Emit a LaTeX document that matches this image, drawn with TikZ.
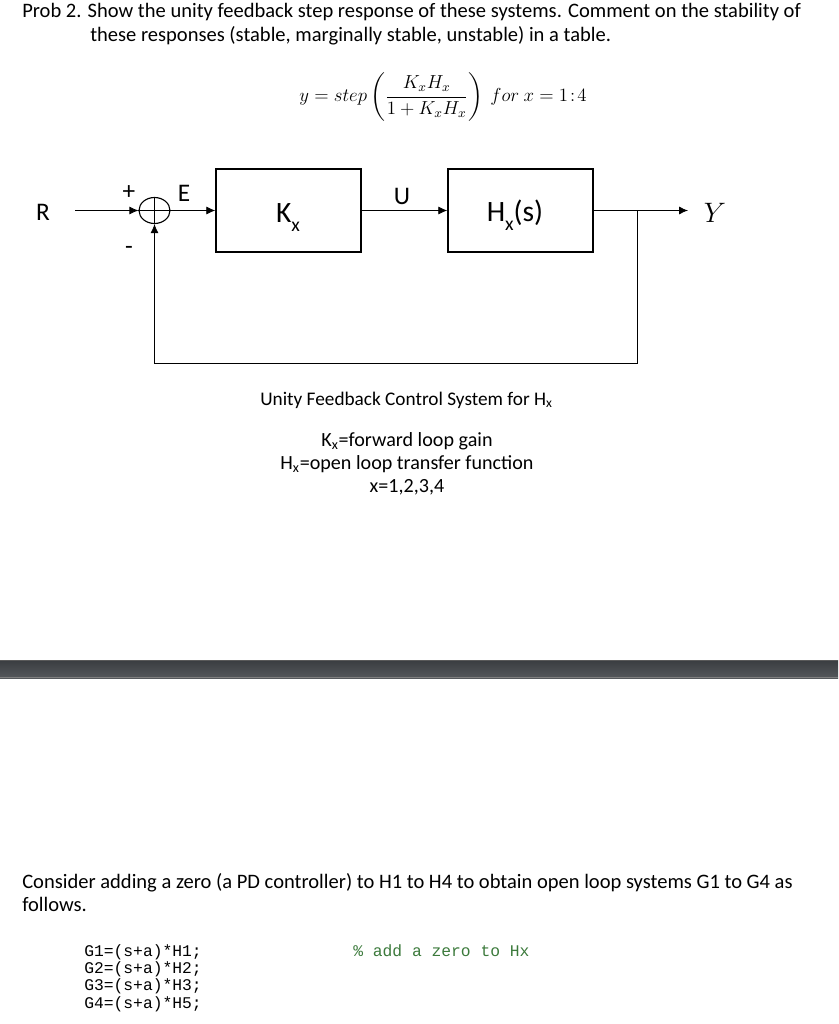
\RequirePackage{fix-cm}
\documentclass[tikz,border=0pt]{standalone}
\usepackage{amsmath}
\usepackage{fontspec}
\setmainfont{Carlito}
\newfontfamily\codefont{Liberation Mono}
\usetikzlibrary{positioning}
\usetikzlibrary{arrows.meta}
\usetikzlibrary{shapes.geometric}
\definecolor{commentgreen}{RGB}{60,122,60}
\definecolor{bardark}{RGB}{58,61,64}
\definecolor{barmid}{RGB}{84,88,92}
\newcommand{\bodysize}{\fontsize{14.6}{17}\selectfont}
\newcommand{\sigsize}{\fontsize{18}{20}\selectfont}
\newcommand{\blocksize}{\fontsize{21}{24}\selectfont}
\newcommand{\lowx}{\raisebox{-6.4pt}{\fontsize{14}{14}\selectfont x}}

\begin{document}
\begin{tikzpicture}[x=0.025cm, y=-0.025cm,
		text line/.style={inner sep=0pt, anchor=base west, font=\bodysize},
		mid line/.style={inner sep=0pt, anchor=base, font=\fontsize{14.3}{17}\selectfont},
		sig label/.style={inner sep=0pt, anchor=base, font=\sigsize},
		block/.style={draw, line width=1pt, minimum width=3.625cm, minimum height=2.075cm, inner sep=0pt},
		sum node/.style={ellipse, draw, line width=0.8pt, minimum width=0.775cm, minimum height=0.65cm, inner sep=0pt},
		signal/.style={line width=0.6pt, -{Latex[length=6.4pt, width=5.7pt]}},
		wire/.style={line width=0.6pt},
		code line/.style={inner sep=0pt, anchor=base west, font=\codefont\fontsize{11.6}{13}\selectfont}
		]
		\useasboundingbox (0,0) rectangle (838,1024);
		
		% problem statement
		\node[text line] (title1) at (22,18) {Prob 2. Show the unity feedback step response of these systems. Comment on the stability of};
		\node[text line] (title2) at (90,41.5) {these responses (stable, marginally stable, unstable) in a table.};
		\node[inner sep=0pt, font=\fontsize{13.4}{16}\selectfont] (formula) at (443,97)
			{$y = step\left(\dfrac{K_xH_x}{1+K_xH_x}\right)\ for\ x = 1\!:\!4$};
		
		% block diagram
		\node[sum node] (sum) at (154.5,210.5) {};
		\draw[wire] (sum.west) -- (sum.east);
		\draw[wire] (sum.north) -- (sum.south);
		\node[block] (Kx) at (288.5,210.5) {};
		\node[block] (Hx) at (520.5,210.5) {};
		\node[inner sep=0pt, anchor=base, font=\blocksize] (Kx label) at (288,223) {K\lowx};
		\node[inner sep=0pt, anchor=base, font=\blocksize] (Hx label) at (515,222) {H\lowx(s)};
		
		\node[sig label] (R) at (43,221) {R};
		\node[sig label] (plus) at (129,200) {+};
		\node[sig label] (minus) at (129,255) {-};
		\node[sig label] (E) at (184,202) {E};
		\node[sig label] (U) at (402,205) {U};
		\node[inner sep=0pt, anchor=base, font=\fontsize{20}{22}\selectfont] (Y) at (715,223) {$Y$};
		
		\coordinate (r start) at (75,210.5);
		\coordinate (branch) at (637,210.5);
		\coordinate (y end) at (688,210.5);
		\coordinate (fb corner) at (637,363);
		
		\draw[signal] (r start) -- (sum.west);
		\draw[signal] (sum.east) -- (Kx.west);
		\draw[signal] (Kx.east) -- (Hx.west);
		\draw[signal] (Hx.east) -- (y end);
		\draw[signal] (branch) -- (fb corner) -| (sum.south);
		
		% captions
		\node[mid line, font=\fontsize{13.7}{16}\selectfont] (caption) at (406.5,405) {Unity Feedback Control System for H\textsubscript{x}};
		\node[mid line] (kx def) at (407,446.7) {K\textsubscript{x}=forward loop gain};
		\node[mid line] (hx def) at (407,469.3) {H\textsubscript{x}=open loop transfer function};
		\node[mid line] (x def) at (407,492) {x=1,2,3,4};
		
		% page break bar
		\shade[top color=bardark, bottom color=barmid] (0,660) rectangle (838,678);
		\draw[gray!70!black, line width=0.7pt] (0,660.5) -- (838,660.5);
		\draw[gray, line width=0.7pt] (0,677.5) -- (838,677.5);
		
		% second part
		\node[text line] (consider1) at (22,888) {Consider adding a zero (a PD controller) to H1 to H4 to obtain open loop systems G1 to G4 as};
		\node[text line] (consider2) at (22,911) {follows.};
		\node[code line] (g1) at (84,956) {G1=(s+a)*H1;};
		\node[code line] (g2) at (84,973.3) {G2=(s+a)*H2;};
		\node[code line] (g3) at (84,990.7) {G3=(s+a)*H3;};
		\node[code line] (g4) at (84,1008) {G4=(s+a)*H5;};
		\node[code line, text=commentgreen] (comment) at (353,956.5) {\% add a zero to Hx};
	\end{tikzpicture}
\end{document}
